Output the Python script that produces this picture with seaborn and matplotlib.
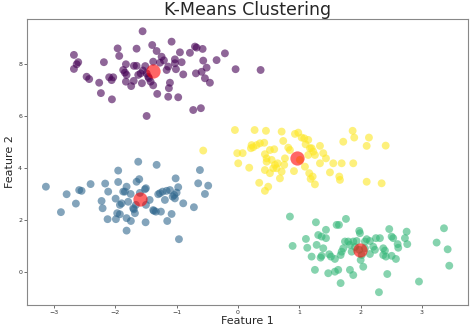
import numpy as np
import pandas as pd
import matplotlib
matplotlib.use("Agg")
import matplotlib.pyplot as plt
import seaborn as sns

# ---- data ----
purple_x = [-1.555, -2.675, -2.605, -2.63, -2.675, -2.468, -2.426, -2.263, -2.235, -2.055,
            -2.186, -1.962, -1.936, -2.10, -2.06, -2.034, -1.827, -1.871, -1.843, -1.816,
            -1.827, -1.741, -1.697, -1.653, -1.653, -1.626, -1.587, -1.566, -1.512, -1.489,
            -1.463, -1.424, -1.382, -1.398, -1.326, -1.382, -1.316, -1.489, -1.245, -1.272,
            -1.137, -1.163, -1.109, -1.126, -1.137, -0.974, -1.082, -1.028, -1.028, -1.011,
            -0.946, -0.918, -0.892, -0.783, -0.701, -0.674, -0.576, -0.566, -0.511, -0.685,
            -0.592, -0.538, -0.457, -0.729, -0.604, -0.348, -0.212, -0.038, 0.370, -1.207,
            -1.55, -1.45, -1.70]
purple_y = [9.26, 8.35, 8.07, 7.99, 7.81, 7.51, 7.42, 7.28, 6.88, 6.64,
            8.07, 8.60, 8.31, 7.49, 7.38, 7.49, 7.99, 7.77, 7.67, 7.58,
            7.32, 7.15, 7.93, 7.93, 8.59, 7.58, 7.64, 7.26, 7.92, 7.64,
            7.51, 7.32, 7.18, 8.73, 8.50, 8.09, 6.85, 6.00, 8.28, 8.05,
            7.90, 7.77, 7.28, 7.07, 6.74, 6.72, 8.86, 8.18, 8.03, 7.80,
            8.45, 8.07, 7.60, 8.43, 8.67, 8.63, 8.58, 8.13, 7.86, 7.64,
            7.70, 7.45, 7.28, 6.23, 6.30, 8.15, 8.41, 7.80, 7.77, 8.14,
            7.75, 7.45, 7.35]

blue_x = [-3.132, -2.794, -2.887, -2.643, -2.589, -2.55, -2.403, -2.165, -1.953, -1.953,
          -2.116, -2.224, -2.207, -2.126, -1.990, -1.969, -1.995, -1.925, -1.871, -1.816,
          -1.750, -1.790, -1.925, -1.816, -1.746, -1.816, -1.708, -1.680, -1.653, -1.610,
          -1.626, -1.501, -1.506, -1.326, -1.370, -1.338, -1.256, -1.300, -1.228, -1.163,
          -1.109, -1.191, -1.065, -1.039, -1.000, -0.974, -1.016, -1.082, -1.153, -0.892,
          -0.962, -0.718, -0.648, -0.620, -0.538, -0.485, -1.028, -1.664, -1.697, -1.897,
          -1.843, -1.517, -1.382, -1.272, -1.60, -1.50, -1.44]
blue_y = [3.28, 2.99, 2.30, 2.63, 3.15, 3.12, 3.38, 3.40, 3.90, 3.46,
          3.09, 2.73, 2.45, 2.03, 2.03, 2.26, 2.82, 2.58, 3.09, 3.28,
          3.00, 2.70, 2.22, 2.07, 1.96, 1.59, 2.45, 2.26, 3.47, 3.57,
          4.24, 3.22, 1.91, 4.12, 2.35, 2.32, 2.32, 2.99, 3.09, 3.12,
          3.15, 2.77, 2.90, 2.96, 3.05, 3.26, 3.60, 2.23, 1.96, 2.64,
          1.26, 2.49, 3.41, 3.92, 3.00, 3.32, 2.83, 2.58, 2.41, 2.64,
          3.09, 3.18, 2.38, 3.03, 3.04, 2.58, 2.77]

green_x = [0.848, 1.272, 1.610, 1.648, 1.762, 1.436, 1.310, 1.365, 1.436, 1.109,
           0.892, 1.131, 1.284, 1.202, 1.365, 1.349, 1.392, 1.489, 1.517, 1.582,
           1.675, 1.692, 1.718, 1.746, 1.799, 1.827, 1.855, 1.979, 1.990, 2.100,
           2.153, 2.072, 2.153, 2.002, 2.044, 1.827, 1.881, 1.636, 1.582, 1.473,
           1.256, 1.675, 2.251, 2.316, 2.207, 2.235, 2.370, 2.398, 2.468, 2.507,
           2.533, 2.605, 2.615, 2.752, 2.724, 2.762, 2.370, 2.414, 2.507, 2.577,
           2.436, 2.300, 2.953, 3.241, 3.361, 3.421, 3.447, 1.979, 1.881, 1.936,
           2.072, 1.91, 2.02]
green_y = [2.13, 1.91, 1.81, 1.81, 2.04, 1.62, 1.42, 1.36, 1.30, 1.27,
           1.00, 0.93, 1.04, 0.59, 0.62, 0.55, 0.91, 0.68, 0.59, 0.50,
           0.65, 0.78, 0.91, 1.17, 1.17, 1.04, 0.78, 1.58, 1.49, 1.26,
           1.19, 0.91, 0.69, 0.46, 0.20, 0.08, -0.12, 0.08, 0.01, -0.05,
           0.08, -0.43, 1.30, 1.30, 0.97, 0.85, 0.91, 0.82, 1.65, 1.36,
           1.30, 1.07, 0.93, 1.55, 1.30, 1.07, 0.65, 0.59, 0.62, 0.50,
           -0.08, -0.78, -0.37, 1.13, 1.68, 0.87, 0.24, 0.85, 1.17, 1.19,
           1.17, 0.96, 0.65]

yellow_x = [-0.049, 0.272, 0.457, 0.713, 0.930, 0.984, 1.039, 1.147, 1.871, 1.897,
            2.137, 1.718, 2.100, 2.410, 0.739, 0.223, 0.250, 0.305, 0.359, 0.429,
            -0.011, 0.077, 0.522, 0.592, 0.440, 0.468, 0.821, 1.104, 1.175, 1.338,
            1.256, 1.392, 1.436, 0.005, 0.184, 0.550, 0.604, 0.576, 0.631, 0.767,
            0.440, 0.522, 0.713, 0.914, 1.093, 1.338, 1.555, 1.692, 1.881, 0.685,
            1.163, 1.219, 1.186, 1.501, 1.653, 1.664, 1.256, 0.347, 0.494, 0.440,
            2.100, 2.344, -0.566, 1.082, 0.212, 0.755, 1.147, 1.228, 1.202, 0.648,
            0.468, 0.848, 1.01]
yellow_y = [5.46, 5.46, 5.43, 5.40, 5.31, 5.36, 5.17, 5.08, 5.43, 5.17,
            5.17, 5.01, 4.85, 4.86, 5.04, 4.88, 4.80, 4.88, 4.95, 4.97,
            4.57, 4.57, 4.69, 4.72, 4.53, 4.37, 4.78, 4.91, 4.76, 4.85,
            4.50, 4.57, 4.37, 4.18, 4.01, 4.31, 4.12, 3.99, 3.99, 4.37,
            3.92, 3.80, 3.86, 3.88, 4.05, 4.18, 4.18, 4.18, 4.18, 3.60,
            3.80, 3.67, 3.58, 3.83, 3.67, 3.54, 3.37, 3.43, 3.28, 3.12,
            3.47, 3.41, 4.67, 5.14, 4.76, 4.12, 4.50, 4.63, 4.76, 4.18,
            4.24, 4.69, 4.31]

centroid_x = [-1.38, -1.59, 1.99, 0.96]
centroid_y = [7.72, 2.80, 0.85, 4.40]

cluster_colors = ["#440154", "#31688e", "#35b779", "#fde725"]

# ---- build frame ----
frames = []
for k, (xs, ys) in enumerate([(purple_x, purple_y), (blue_x, blue_y),
                              (green_x, green_y), (yellow_x, yellow_y)]):
    frames.append(pd.DataFrame({"Feature 1": xs, "Feature 2": ys, "cluster": k}))
df = pd.concat(frames, ignore_index=True)
cent = pd.DataFrame({"x": centroid_x, "y": centroid_y})

sns.set_style("white")
plt.rcParams["font.family"] = ["DejaVu Sans"]

fig = plt.figure(figsize=(4.74, 3.34), dpi=100)
ax = fig.add_axes([0.057, 0.087, 0.930, 0.856])

sns.scatterplot(data=df, x="Feature 1", y="Feature 2", hue="cluster",
                palette=cluster_colors, s=32, alpha=0.6, linewidth=0,
                legend=False, ax=ax)
sns.scatterplot(data=cent, x="x", y="y", color="red", s=105, alpha=0.6,
                linewidth=0, legend=False, ax=ax)

ax.set_xlim(-3.44, 3.75)
ax.set_ylim(-1.27, 9.73)
ax.set_xticks([-3, -2, -1, 0, 1, 2, 3])
ax.set_yticks([0, 2, 4, 6, 8])
ax.set_title("K-Means Clustering", fontsize=12.5, pad=3)
ax.set_xlabel("Feature 1", fontsize=8, labelpad=1)
ax.set_ylabel("Feature 2", fontsize=8, labelpad=2)
ax.tick_params(axis="both", labelsize=4.5, length=2, width=0.5, pad=1.5,
               colors="#333333", bottom=True, left=True)
for sp in ax.spines.values():
    sp.set_color("#888888")
    sp.set_linewidth(0.8)

fig.savefig("out.png", dpi=100)
